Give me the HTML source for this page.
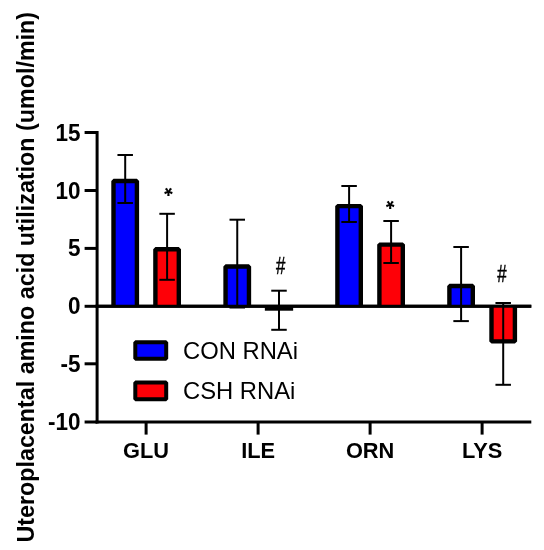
<!DOCTYPE html>
<html><head><meta charset="utf-8"><title>Uteroplacental amino acid utilization</title>
<style>html,body{margin:0;padding:0;background:#fff;}svg{display:block;}</style></head>
<body><svg width="544" height="550" viewBox="0 0 544 550">
<rect x="0" y="0" width="544" height="550" fill="#fff"/>
<text x="0" y="0" transform="translate(33.6 542.6) rotate(-90)" font-family="'Liberation Sans', Arial, sans-serif" font-weight="bold" font-size="23.3" fill="#000">Uteroplacental amino acid utilization (umol/min)</text>
<line x1="97.1" y1="131" x2="97.1" y2="423.5" stroke="#000" stroke-width="3"/>
<line x1="84.6" y1="132.5" x2="97.1" y2="132.5" stroke="#000" stroke-width="3"/>
<text transform="translate(80.5 140.5) scale(1 1.07)" x="0" y="0" text-anchor="end" font-family="'Liberation Sans', Arial, sans-serif" font-weight="bold" font-size="22.5">15</text>
<line x1="84.6" y1="190.5" x2="97.1" y2="190.5" stroke="#000" stroke-width="3"/>
<text transform="translate(80.5 198.5) scale(1 1.07)" x="0" y="0" text-anchor="end" font-family="'Liberation Sans', Arial, sans-serif" font-weight="bold" font-size="22.5">10</text>
<line x1="84.6" y1="248.4" x2="97.1" y2="248.4" stroke="#000" stroke-width="3"/>
<text transform="translate(80.5 256.4) scale(1 1.07)" x="0" y="0" text-anchor="end" font-family="'Liberation Sans', Arial, sans-serif" font-weight="bold" font-size="22.5">5</text>
<line x1="84.6" y1="306.3" x2="97.1" y2="306.3" stroke="#000" stroke-width="3"/>
<text transform="translate(80.5 314.3) scale(1 1.07)" x="0" y="0" text-anchor="end" font-family="'Liberation Sans', Arial, sans-serif" font-weight="bold" font-size="22.5">0</text>
<line x1="84.6" y1="363.8" x2="97.1" y2="363.8" stroke="#000" stroke-width="3"/>
<text transform="translate(80.5 371.8) scale(1 1.07)" x="0" y="0" text-anchor="end" font-family="'Liberation Sans', Arial, sans-serif" font-weight="bold" font-size="22.5">-5</text>
<line x1="84.6" y1="422" x2="97.1" y2="422" stroke="#000" stroke-width="3"/>
<text transform="translate(80.5 430) scale(1 1.07)" x="0" y="0" text-anchor="end" font-family="'Liberation Sans', Arial, sans-serif" font-weight="bold" font-size="22.5">-10</text>
<line x1="95.6" y1="422" x2="531.3" y2="422" stroke="#000" stroke-width="3"/>
<line x1="95.6" y1="306.3" x2="531.3" y2="306.3" stroke="#000" stroke-width="3"/>
<line x1="146.1" y1="422" x2="146.1" y2="434.6" stroke="#000" stroke-width="3"/>
<text x="146.1" y="458.2" text-anchor="middle" font-family="'Liberation Sans', Arial, sans-serif" font-weight="bold" font-size="21.8">GLU</text>
<line x1="258.1" y1="422" x2="258.1" y2="434.6" stroke="#000" stroke-width="3"/>
<text x="258.1" y="458.2" text-anchor="middle" font-family="'Liberation Sans', Arial, sans-serif" font-weight="bold" font-size="21.8">ILE</text>
<line x1="370.1" y1="422" x2="370.1" y2="434.6" stroke="#000" stroke-width="3"/>
<text x="370.1" y="458.2" text-anchor="middle" font-family="'Liberation Sans', Arial, sans-serif" font-weight="bold" font-size="21.8">ORN</text>
<line x1="482.1" y1="422" x2="482.1" y2="434.6" stroke="#000" stroke-width="3"/>
<text x="482.1" y="458.2" text-anchor="middle" font-family="'Liberation Sans', Arial, sans-serif" font-weight="bold" font-size="21.8">LYS</text>
<rect x="113.5" y="181.0" width="23.4" height="125.30000000000001" fill="#0000ff"/>
<path d="M113.5 306.3L113.5 181.0L136.9 181.0L136.9 306.3" fill="none" stroke="#000" stroke-width="4.4" stroke-linejoin="bevel"/>
<rect x="155.4" y="249.2" width="23.4" height="57.10000000000002" fill="#fe0007"/>
<path d="M155.4 306.3L155.4 249.2L178.79999999999998 249.2L178.79999999999998 306.3" fill="none" stroke="#000" stroke-width="4.4" stroke-linejoin="bevel"/>
<rect x="225.55" y="266.5" width="23.4" height="39.80000000000001" fill="#0000ff"/>
<path d="M225.55 306.3L225.55 266.5L248.95 266.5L248.95 306.3" fill="none" stroke="#000" stroke-width="4.4" stroke-linejoin="bevel"/>
<rect x="264.85" y="305" width="28.3" height="5.7" fill="#000"/>
<rect x="337.40000000000003" y="206.1" width="23.4" height="100.20000000000002" fill="#0000ff"/>
<path d="M337.40000000000003 306.3L337.40000000000003 206.1L360.8 206.1L360.8 306.3" fill="none" stroke="#000" stroke-width="4.4" stroke-linejoin="bevel"/>
<rect x="379.40000000000003" y="244.6" width="23.4" height="61.70000000000002" fill="#fe0007"/>
<path d="M379.40000000000003 306.3L379.40000000000003 244.6L402.8 244.6L402.8 306.3" fill="none" stroke="#000" stroke-width="4.4" stroke-linejoin="bevel"/>
<rect x="449.40000000000003" y="286.0" width="23.4" height="20.30000000000001" fill="#0000ff"/>
<path d="M449.40000000000003 306.3L449.40000000000003 286.0L472.8 286.0L472.8 306.3" fill="none" stroke="#000" stroke-width="4.4" stroke-linejoin="bevel"/>
<rect x="491.5" y="306.3" width="23.4" height="35.099999999999966" fill="#fe0007"/>
<path d="M491.5 306.3L491.5 341.4L514.9 341.4L514.9 306.3" fill="none" stroke="#000" stroke-width="4.4" stroke-linejoin="bevel"/>
<line x1="125.2" y1="155" x2="125.2" y2="203" stroke="#000" stroke-width="2"/>
<line x1="117.45" y1="155" x2="132.95" y2="155" stroke="#000" stroke-width="2"/>
<line x1="117.45" y1="203" x2="132.95" y2="203" stroke="#000" stroke-width="2"/>
<line x1="167.1" y1="213.8" x2="167.1" y2="279.8" stroke="#000" stroke-width="2"/>
<line x1="159.35" y1="213.8" x2="174.85" y2="213.8" stroke="#000" stroke-width="2"/>
<line x1="159.35" y1="279.8" x2="174.85" y2="279.8" stroke="#000" stroke-width="2"/>
<line x1="237.25" y1="219.7" x2="237.25" y2="307.5" stroke="#000" stroke-width="2"/>
<line x1="229.5" y1="219.7" x2="245.0" y2="219.7" stroke="#000" stroke-width="2"/>
<line x1="229.5" y1="307.5" x2="245.0" y2="307.5" stroke="#000" stroke-width="2"/>
<line x1="279.0" y1="290.7" x2="279.0" y2="329.8" stroke="#000" stroke-width="2"/>
<line x1="271.25" y1="290.7" x2="286.75" y2="290.7" stroke="#000" stroke-width="2"/>
<line x1="271.25" y1="329.8" x2="286.75" y2="329.8" stroke="#000" stroke-width="2"/>
<line x1="349.1" y1="186" x2="349.1" y2="222" stroke="#000" stroke-width="2"/>
<line x1="341.35" y1="186" x2="356.85" y2="186" stroke="#000" stroke-width="2"/>
<line x1="341.35" y1="222" x2="356.85" y2="222" stroke="#000" stroke-width="2"/>
<line x1="391.1" y1="221" x2="391.1" y2="263" stroke="#000" stroke-width="2"/>
<line x1="383.35" y1="221" x2="398.85" y2="221" stroke="#000" stroke-width="2"/>
<line x1="383.35" y1="263" x2="398.85" y2="263" stroke="#000" stroke-width="2"/>
<line x1="461.1" y1="247" x2="461.1" y2="321.1" stroke="#000" stroke-width="2"/>
<line x1="453.35" y1="247" x2="468.85" y2="247" stroke="#000" stroke-width="2"/>
<line x1="453.35" y1="321.1" x2="468.85" y2="321.1" stroke="#000" stroke-width="2"/>
<line x1="503.2" y1="303" x2="503.2" y2="384.8" stroke="#000" stroke-width="2"/>
<line x1="495.45" y1="303" x2="510.95" y2="303" stroke="#000" stroke-width="2"/>
<line x1="495.45" y1="384.8" x2="510.95" y2="384.8" stroke="#000" stroke-width="2"/>
<line x1="95.6" y1="306.3" x2="531.3" y2="306.3" stroke="#000" stroke-width="3"/>
<text transform="translate(168.4 191.85) rotate(180)" x="-4.4" y="10.9" font-family="'Liberation Sans', Arial, sans-serif" font-weight="bold" font-size="22">*</text>
<text transform="translate(390.2 204.55) rotate(180)" x="-4.4" y="10.9" font-family="'Liberation Sans', Arial, sans-serif" font-weight="bold" font-size="22">*</text>
<text transform="translate(280.6 265.6) scale(0.7 1)" x="0" y="8.5" text-anchor="middle" font-family="'Liberation Sans', Arial, sans-serif" font-size="24" stroke="#000" stroke-width="0.5">#</text>
<text transform="translate(501.85 273.75) scale(0.7 1)" x="0" y="8.5" text-anchor="middle" font-family="'Liberation Sans', Arial, sans-serif" font-size="24" stroke="#000" stroke-width="0.5">#</text>
<rect x="135.3" y="342.3" width="30.9" height="16.5" fill="#0000ff" stroke="#000" stroke-width="4" stroke-linejoin="bevel"/>
<rect x="135.3" y="382.6" width="30.9" height="16.7" fill="#fe0007" stroke="#000" stroke-width="4" stroke-linejoin="bevel"/>
<text x="183" y="358.6" font-family="'Liberation Sans', Arial, sans-serif" font-size="23.8">CON RNAi</text>
<text x="183" y="398.8" font-family="'Liberation Sans', Arial, sans-serif" font-size="23.8">CSH RNAi</text>
</svg></body></html>
